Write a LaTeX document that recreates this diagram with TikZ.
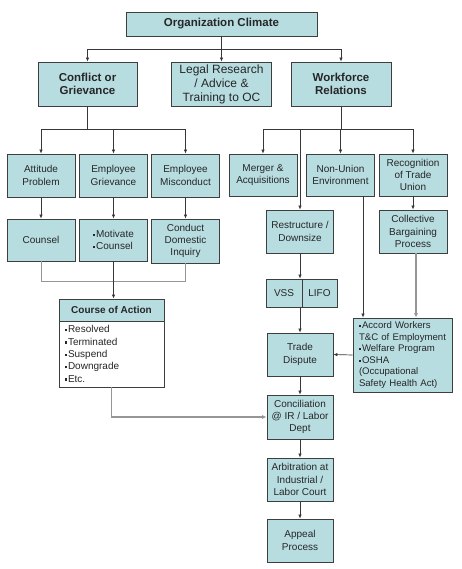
\documentclass[tikz,border=0pt]{standalone}
\usepackage{fontspec}
\setmainfont{Liberation Sans}
\usetikzlibrary{arrows.meta}
\definecolor{boxfill}{RGB}{184,221,225}
\definecolor{boxline}{RGB}{62,62,62}
\definecolor{linkdark}{RGB}{55,55,55}
\definecolor{linkgray}{RGB}{150,150,150}
\newcommand{\sqb}{\raisebox{0.3ex}{\rule{2.2pt}{2.2pt}}\hspace{0.8pt}}

\begin{document}
\begin{tikzpicture}[x=1pt,y=-1pt,
  blk/.style={shape=rectangle,draw=boxline,fill=boxfill,line width=0.8pt,align=center,inner sep=1pt,text=black!85,font=\fontsize{10}{12.3}\selectfont},
  head/.style={blk,font=\bfseries\fontsize{11.5}{13.3}\selectfont,minimum width=99pt,minimum height=44pt},
  sbox/.style={blk,minimum width=68pt,minimum height=43pt},
  cbox/.style={blk,minimum width=66pt,minimum height=43pt},
  lnk/.style={draw=linkdark,line width=0.7pt},
  arr/.style={lnk,-{Latex[length=4pt,width=3.5pt]}},
  glnk/.style={draw=linkgray,line width=1.3pt},
  garr/.style={glnk,-{Latex[length=4.5pt,width=4pt]}}]
\useasboundingbox (0,0) rectangle (461,569);

\node[blk,font=\bfseries\fontsize{11.5}{13}\selectfont,minimum width=191pt,minimum height=24pt] (orgclim) at (221.5,24){Organization Climate};

\node[head] (conflict) at (87.5,84){Conflict or\\Grievance};
\node[blk,font=\fontsize{12}{14}\selectfont,minimum width=100pt,minimum height=44pt] (legal) at (221.5,84){Legal Research\\/ Advice \&\\Training to OC};
\node[head,minimum width=100pt] (workforce) at (341,84){Workforce\\Relations};

\node[sbox] (attitude) at (41,175.5){Attitude\\Problem};
\node[sbox] (empgriev) at (113.5,175.5){Employee\\Grievance};
\node[sbox] (empmisc) at (185.5,175.5){Employee\\Misconduct};
\node[sbox,minimum height=42pt] (merger) at (263,175){Merger \&\\Acquisitions};
\node[sbox,minimum height=42pt] (nonunion) at (340.5,175){Non-Union\\Environment};
\node[sbox,minimum height=42pt] (recog) at (413,175){Recognition\\of Trade\\Union};

\node[sbox,minimum height=42pt] (counsel) at (41,240){Counsel};
\node[sbox,minimum height=42pt,align=left] (motivate) at (113.5,240){\sqb Motivate\\\sqb Counsel};
\node[sbox,minimum height=44pt] (domestic) at (185.5,241){Conduct\\Domestic\\Inquiry};
\node[sbox,minimum width=67pt] (restruct) at (300,231.5){Restructure /\\Downsize};
\node[sbox] (collect) at (413,231.5){Collective\\Bargaining\\Process};

\node[blk,minimum width=36pt,minimum height=28pt] (vss) at (284,293){VSS};
\node[blk,minimum width=35pt,minimum height=28pt] (lifo) at (319.5,293){LIFO};

% course of action
\node[blk,font=\bfseries\fontsize{10}{12}\selectfont,minimum width=105pt,minimum height=22pt] (coahead) at (111.5,310){Course of Action};
\node[blk,fill=white,align=left,text width=93pt,minimum height=66pt,inner xsep=6pt,inner ysep=4pt] (coabody) at (111.5,354){\sqb Resolved\\\sqb Terminated\\\sqb Suspend\\\sqb Downgrade\\\sqb Etc.};

\node[blk,align=left,text width=87pt,minimum height=74pt,inner xsep=6pt,inner ysep=3pt,font=\fontsize{9.6}{11.6}\selectfont] (accord) at (402.5,355){\sqb Accord Workers\\T\&C of Employment\\\sqb Welfare Program\\\sqb OSHA\\(Occupational\\Safety Health Act)};

\node[cbox] (trade) at (300,354.5){Trade\\Dispute};
\node[cbox,minimum height=44pt] (concil) at (300,417){Conciliation\\@ IR / Labor\\Dept};
\node[cbox] (arbit) at (300,479.5){Arbitration at\\Industrial /\\Labor Court};
\node[cbox] (appeal) at (300,540.5){Appeal\\Process};

\coordinate (join) at (113.5,281);

\draw[arr] (orgclim.south) -- (legal.north);
\draw[arr] (orgclim.south) -- ++(0,13) -| (conflict.north);
\draw[arr] (orgclim.south) -- ++(0,13) -| (workforce.north);

\draw[arr] (conflict.south) -- ++(0,23) -| (attitude.north);
\draw[arr] (conflict.south) -- ++(0,23) -| (empgriev.north);
\draw[arr] (conflict.south) -- ++(0,23) -| (empmisc.north);
\draw[arr] (attitude.south) -- (counsel.north);
\draw[arr] (empgriev.south) -- (motivate.north);
\draw[arr] (empmisc.south) -- (domestic.north);
\draw[lnk,draw=linkgray] (counsel.south) |- (join);
\draw[lnk,draw=linkgray] (domestic.south) |- (join);
\draw[arr,line width=1.2pt] (motivate.south) -- (motivate.south |- coahead.north);
\draw[garr] (coabody.south) |- (concil.west);

\draw[arr] (workforce.south) -- ++(0,23) -| (merger.north);
\draw[arr] (workforce.south) -- ++(0,23) -| (restruct.north);
\draw[arr] (workforce.south) -- ++(0,23) -| (nonunion.north);
\draw[arr] (workforce.south) -- ++(0,23) -| (recog.north);
\draw[arr] (recog.south) -- (collect.north);
\draw[arr] (restruct.south) -- (restruct.south |- vss.north);
\draw[arr] (restruct.south |- vss.south) -- (trade.north);
\draw[arr] ([xshift=22.5pt]nonunion.south) -- ([xshift=22.5pt]nonunion.south |- accord.north);
\draw[garr] ([xshift=3pt]collect.south) -- ([xshift=3pt]collect.south |- accord.north);
\draw[arr] (accord.west) -- (trade.east);

\draw[arr] (trade.south) -- (concil.north);
\draw[arr] (concil.south) -- (arbit.north);
\draw[arr] (arbit.south) -- (appeal.north);

\end{tikzpicture}
\end{document}
